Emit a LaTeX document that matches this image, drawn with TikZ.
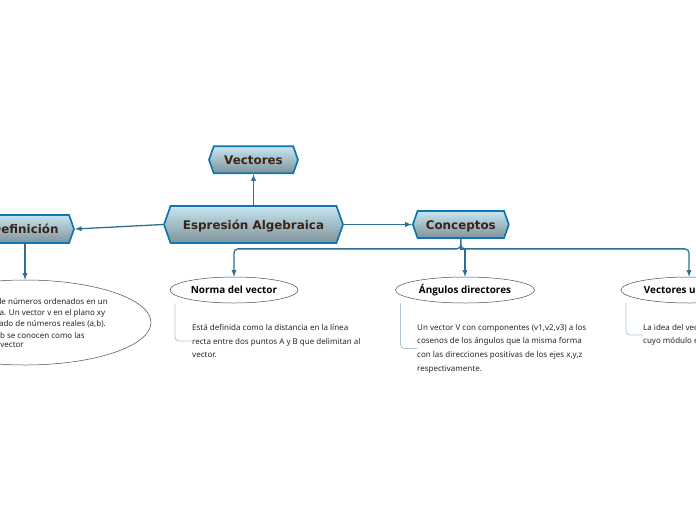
\documentclass[tikz,border=0pt]{standalone}
\usepackage{fontspec}
\setmainfont{Noto Sans}
\newfontfamily\titlefont{DejaVu Sans}
\newfontfamily\elipsefont{Open Sans}
\usetikzlibrary{positioning,shapes.geometric,shapes.symbols}

\definecolor{hexborde}{HTML}{0F76B0}
\definecolor{hexarriba}{HTML}{C6E6F2}
\definecolor{hexabajo}{HTML}{7F929A}
\definecolor{hextexto}{HTML}{3B2417}
\definecolor{rama}{HTML}{2F6E94}
\definecolor{nota}{HTML}{A9C6D6}

\tikzset{
    hexa/.style = {shape=signal, signal to=east and west, signal pointer angle=141,
        draw=hexborde, line width=1.7pt, top color=hexarriba, bottom color=hexabajo,
        text=hextexto, font=\titlefont\bfseries\fontsize{11.9}{13}\selectfont, inner sep=0pt,
        text height=9pt, text depth=0pt},
    elipse/.style = {ellipse, draw=black!70, line width=0.5pt, fill=white, inner sep=0pt,
        minimum height=26pt, font=\elipsefont\bfseries\fontsize{9.9}{11}\selectfont,
        text height=6pt, text depth=0pt},
    flecha/.style = {-latex, draw=rama, line width=1.3pt},
    corchete/.style = {draw=nota, line width=0.8pt, rounded corners=4pt},
    parrafo/.style = {align=left, anchor=west, inner sep=0pt, text=black!85,
        font=\fontsize{8}{13.7}\selectfont}
}

\begin{document}
\begin{tikzpicture}[x=1pt, y=-1pt, node distance=30pt]
    \useasboundingbox (0,0) rectangle (696,520);
    \clip (0,0) rectangle (696,520);

    \node [hexa, minimum width=179pt, minimum height=37pt] (espresion) at (253.5,224.5) {Espresión Algebraica};
    \node [hexa, minimum width=89pt, minimum height=27pt, above=31pt of espresion] (vectores) {Vectores};
    \node [hexa, minimum width=96pt, minimum height=27pt, right=68pt of espresion] (conceptos) {Conceptos};
    \node [hexa, minimum width=98pt, minimum height=28pt] (definicion) at (25,229) {Definición};

    \node [elipse, minimum width=252pt, minimum height=85pt] (defelipse) at (25,322.5) {};
    \foreach \linea/\finx/\liney [count=\i] in {
        de números ordenados en un/108/301,
        a. Un vector v en el plano xy/105.5/313,
        ado de números reales (a{,}b)./106/324,
        b se conocen como las/85/335,
        vector/24/345}
        \node [parrafo, anchor=east] (def\i) at (\finx,\liney) {\linea};

    \node [elipse, minimum width=128pt] (norma) at (234,290) {Norma del vector};
    \node [elipse, minimum width=139pt, right=97pt of norma] (angulos) {Ángulos directores};
    \node [elipse, minimum width=136pt] (unitarios) at (689,290) {Vectores unitarios};

    \node [parrafo] (normatxt) at (192,341) {Está definida como la distancia en la línea\\recta entre dos puntos A y B que delimitan al\\vector.};
    \node [parrafo] (angulostxt) at (417,348.5) {Un vector V con componentes (v1,v2,v3) a los\\cosenos de los ángulos que la misma forma\\con las direcciones positivas de los ejes x,y,z\\respectivamente.};
    \node [parrafo] (unitariostxt) at (643,335) {La idea del vec\\cuyo módulo e};

    % conectores
    \draw [flecha] (espresion.north) -- (vectores.south);
    \draw [flecha] (espresion.west) -- (definicion.east);
    \draw [flecha] (espresion.east) -- (conceptos.west);
    \draw [flecha] (definicion.south) -- (defelipse.north);
    \draw [flecha, rounded corners=4pt] (conceptos.south) |- ++(0,10) -| (norma.north);
    \draw [flecha, rounded corners=4pt] (conceptos.south) |- ++(0,10) -| (unitarios.north);
    \draw [flecha] (conceptos.south) -- ++(0,10) -| (angulos.north);

    \draw [corchete] ([xshift=-59pt]norma.south) |- (normatxt.west);
    \draw [corchete] ([xshift=-64.5pt]angulos.south) |- (angulostxt.west);
    \draw [corchete] ([xshift=-63pt]unitarios.south) |- (unitariostxt.west);
\end{tikzpicture}
\end{document}
